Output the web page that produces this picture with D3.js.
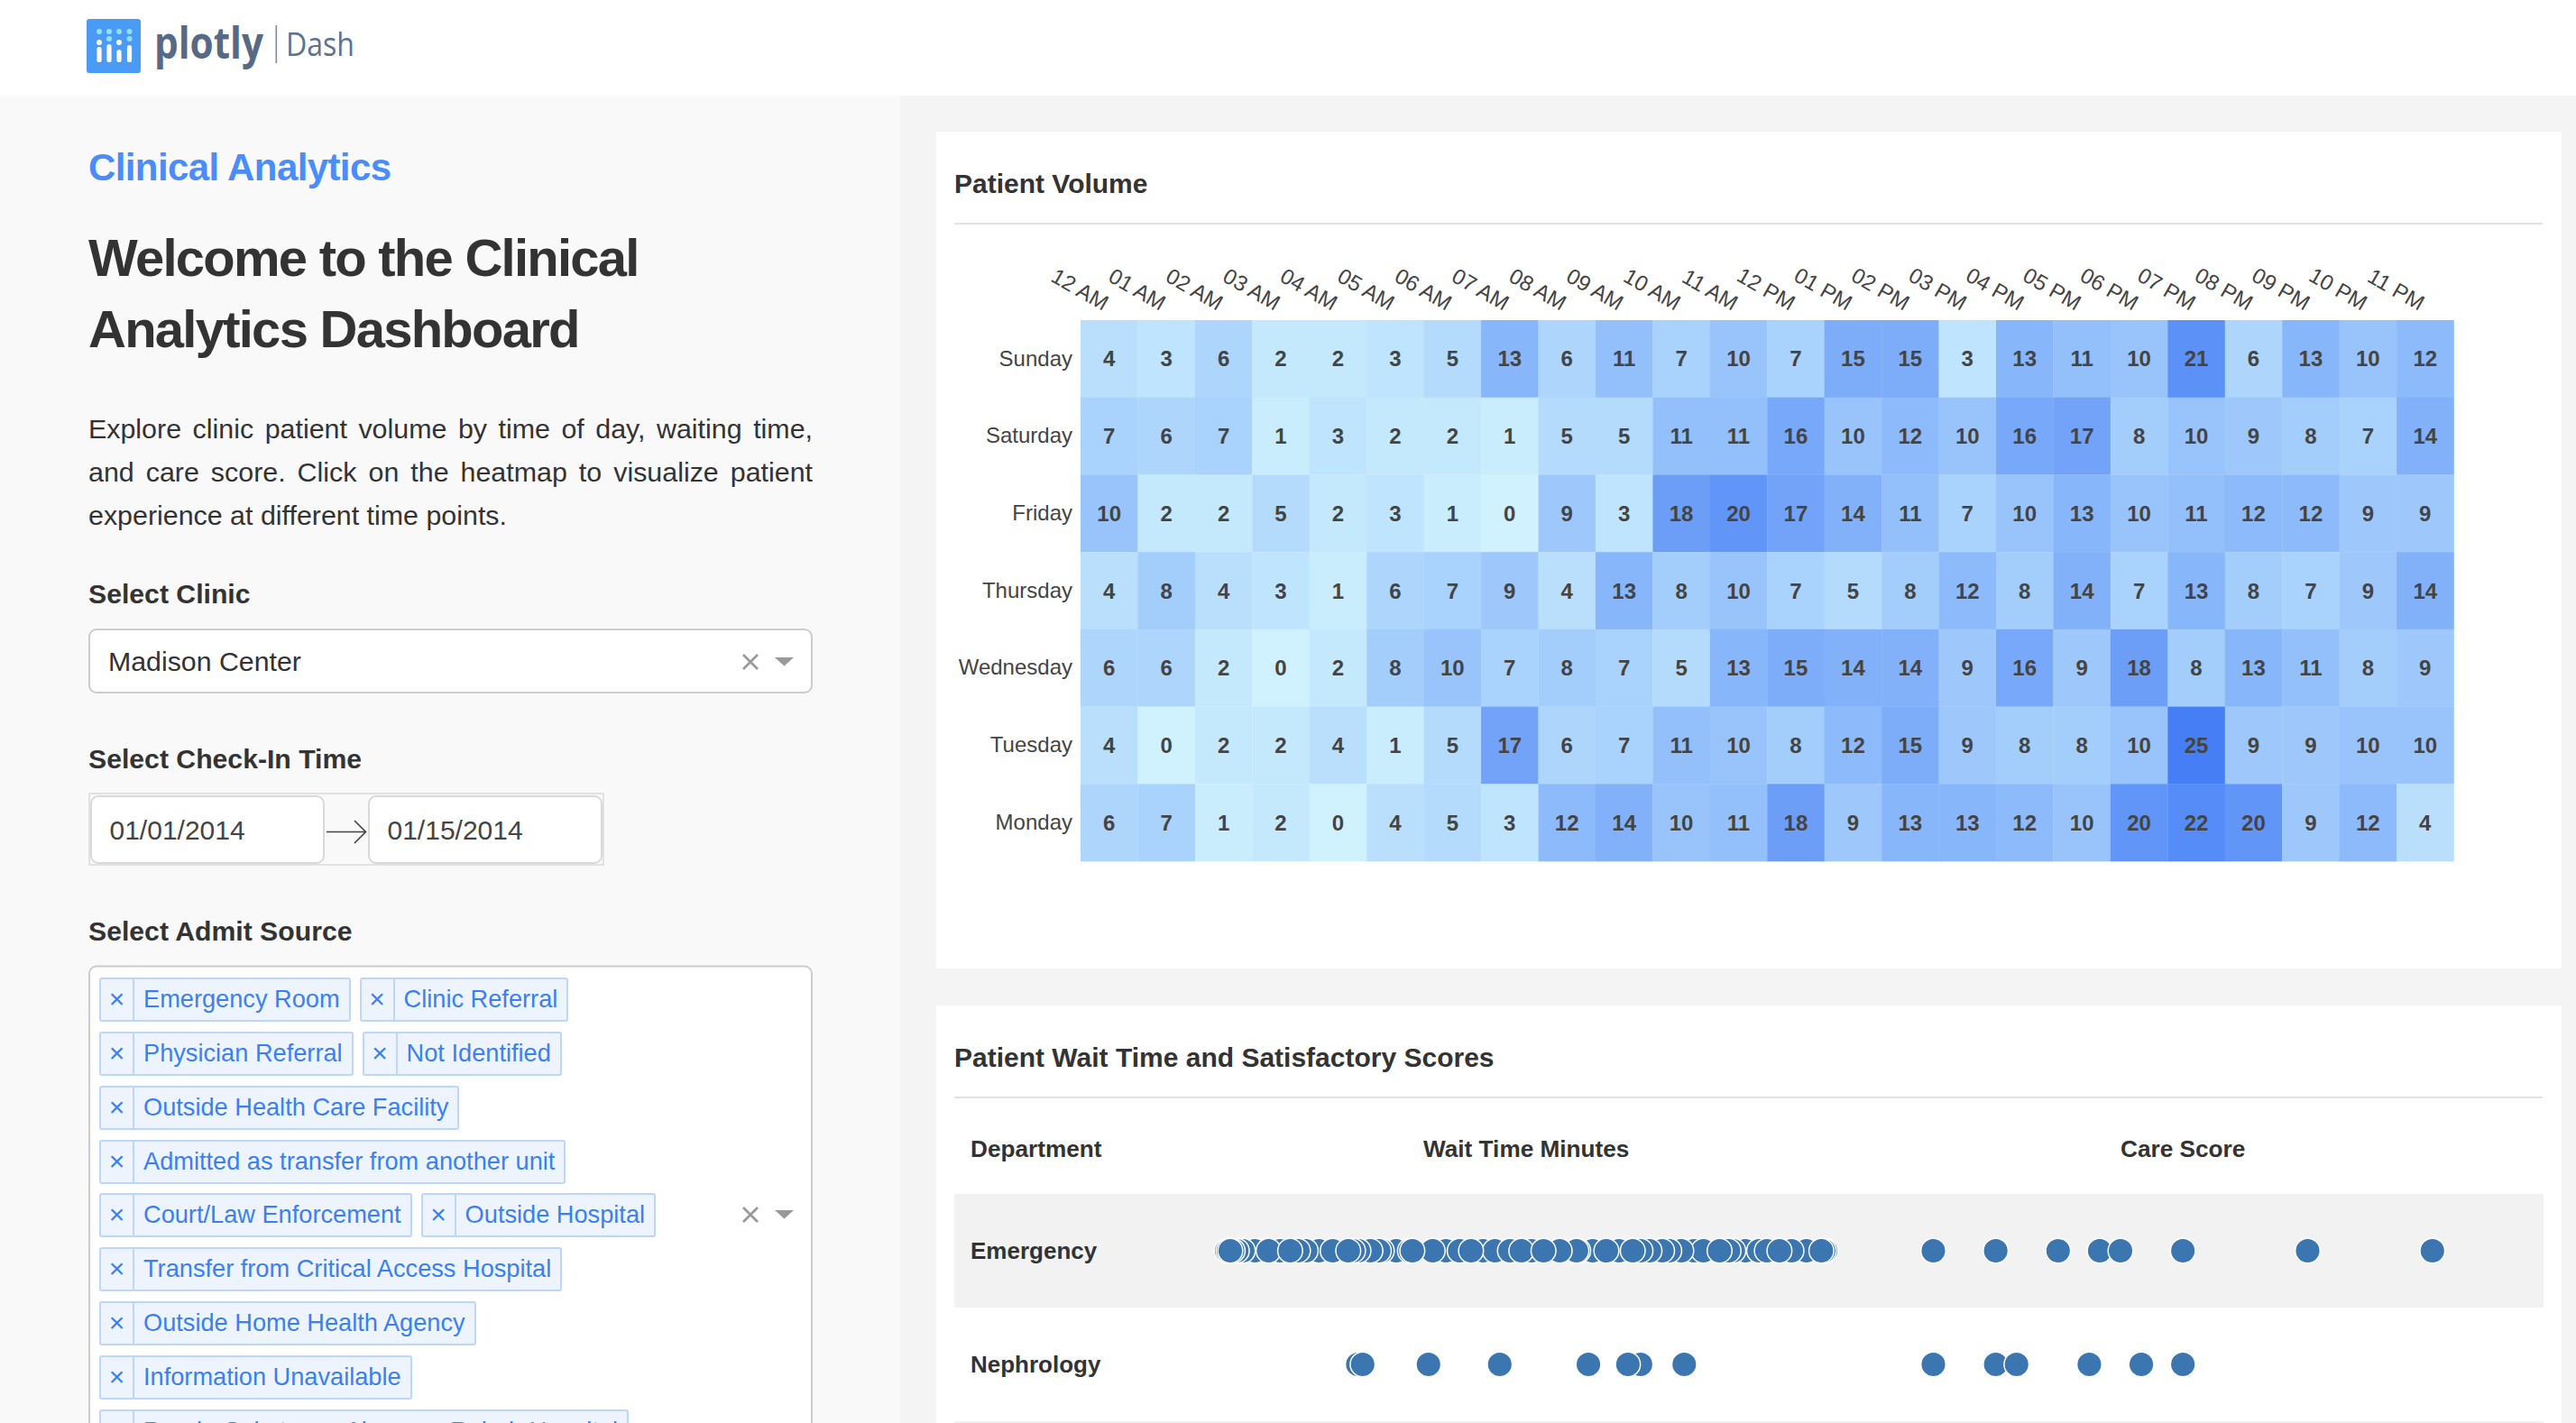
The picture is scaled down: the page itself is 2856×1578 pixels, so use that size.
<!DOCTYPE html>
<html><head><meta charset="utf-8">
<script src="https://cdn.jsdelivr.net/npm/d3@7"></script>
<style>
html,body{margin:0;padding:0;width:2856px;height:1578px;overflow:hidden;background:#f4f4f4;font-family:"Liberation Sans",Arial,sans-serif;}
#page{position:relative;width:2856px;height:1578px;overflow:hidden;}
.abs{position:absolute;box-sizing:border-box;white-space:nowrap;}
svg{position:absolute;left:0;top:0;}
.tag{position:absolute;display:flex;box-sizing:border-box;height:49px;background:#edf4fe;border:2px solid #bdd6fb;border-radius:3px;color:#3a80f2;font-size:27.2px;line-height:44px;white-space:nowrap;}
.tag .x{width:35px;border-right:2px solid #bdd6fb;text-align:center;font-size:30px;box-sizing:content-box;}
.tag .t{padding:0 10px 0 10px;}
</style></head><body><div id="page"></div>
<script>
// ---------- data ----------
const days = ["Sunday","Saturday","Friday","Thursday","Wednesday","Tuesday","Monday"];
const hours = ["12 AM","01 AM","02 AM","03 AM","04 AM","05 AM","06 AM","07 AM","08 AM","09 AM","10 AM","11 AM","12 PM","01 PM","02 PM","03 PM","04 PM","05 PM","06 PM","07 PM","08 PM","09 PM","10 PM","11 PM"];
const sunday    = [4,3,6,2,2,3,5,13,6,11,7,10,7,15,15,3,13,11,10,21,6,13,10,12];
const saturday  = [7,6,7,1,3,2,2,1,5,5,11,11,16,10,12,10,16,17,8,10,9,8,7,14];
const friday    = [10,2,2,5,2,3,1,0,9,3,18,20,17,14,11,7,10,13,10,11,12,12,9,9];
const thursday  = [4,8,4,3,1,6,7,9,4,13,8,10,7,5,8,12,8,14,7,13,8,7,9,14];
const wednesday = [6,6,2,0,2,8,10,7,8,7,5,13,15,14,14,9,16,9,18,8,13,11,8,9];
const tuesday   = [4,0,2,2,4,1,5,17,6,7,11,10,8,12,15,9,8,8,10,25,9,9,10,10];
const monday    = [6,7,1,2,0,4,5,3,12,14,10,11,18,9,13,13,12,10,20,22,20,9,12,4];
const volumes = [sunday,saturday,friday,thursday,wednesday,tuesday,monday];

const departments = ["Emergency","Nephrology"];
// listed in drawing order (later points sit on top); the first group is mostly hidden under the rest
const waitEmergency = [4.7,8.9,15.4,28.3,36.6,42.8,50.9,61.1,65.5,78.0,86.6,96.8,
  0,0.3,2.7,1.7,1.0,0.6,7.0,13.2,11.9,10.6,17.7,25.9,25.4,24.0,22.0,21.1,20.3,34.4,30.6,31.0,38.9,44.8,40.8,47.3,49.2,58.7,58.4,55.6,52.9,63.4,79.6,75.9,73.9,72.7,70.6,69.1,67.8,84.6,83.8,82.3,88.9,90.2,94.3,92.3,100,99.7,99.3];
const waitNephrology = [21.9,22.7,33.7,45.6,60.4,69.1,67.0,76.4];
const careEmergency = [0,6,12,16,18,24,36,48];
const careNephrology = [0,6,8,15,20,24];
const waitSeries = [waitEmergency,waitNephrology];
const careSeries = [careEmergency,careNephrology];

const tagRows = [
 ["Emergency Room","Clinic Referral"],
 ["Physician Referral","Not Identified"],
 ["Outside Health Care Facility"],
 ["Admitted as transfer from another unit"],
 ["Court/Law Enforcement","Outside Hospital"],
 ["Transfer from Critical Access Hospital"],
 ["Outside Home Health Agency"],
 ["Information Unavailable"],
 ["Psych, Substance Abuse or Rehab Hospital"]
];

// ---------- page ----------
const page = d3.select("#page");
const svg = page.append("svg").attr("width",2856).attr("height",1578);
const FONT = '"Liberation Sans",Arial,sans-serif';

function rect(x,y,w,h,fill){return svg.append("rect").attr("x",x).attr("y",y).attr("width",w).attr("height",h).attr("fill",fill);}
function label(s,x,base,size,color,weight,extra){
  const t = svg.append("text").attr("x",x).attr("y",base).attr("font-family",FONT).attr("font-size",size)
    .attr("fill",color).attr("font-weight",weight||400).text(s);
  if(extra) for(const k in extra) t.attr(k,extra[k]);
  return t;
}
function div(x,y,w,h,css){
  const d = page.append("div").attr("class","abs").style("left",x+"px").style("top",y+"px").style("width",w+"px").style("height",h+"px");
  for(const k in (css||{})) d.style(k,css[k]);
  return d;
}

// backgrounds
rect(0,0,2856,1578,"#f4f4f4");
rect(0,0,998,1578,"#f9f9f9");
rect(0,0,2856,106,"#ffffff");
rect(1038,146,1802,928,"#ffffff");
rect(1038,1115,1802,463,"#ffffff");

// logo
rect(96,21,60,60,"#4a9bf5").attr("rx",3);
const dotXs=[110,121,132,143.5];
dotXs.forEach((x,i)=>{
  svg.append("circle").attr("cx",x).attr("cy",35).attr("r",3).attr("fill","#8fe0fb");
  svg.append("circle").attr("cx",x).attr("cy",[47,43,47,43][i]).attr("r",3).attr("fill",i%2?"#8fe0fb":"#ffffff");
  const top=[52,49,55,50][i];
  rect(x-2.6,top,5.2,69-top,"#ffffff").attr("rx",2.6);
});
label("plotly",171,65,48,"#566a88",700).attr("font-family",'"Open Sans",sans-serif').attr("textLength",121).attr("lengthAdjust","spacingAndGlyphs");
rect(305.5,28,1.6,42,"#7c8ba3");
label("Dash",317,62,36,"#5d7190",400).attr("font-family",'"Open Sans",sans-serif').attr("textLength",76).attr("lengthAdjust","spacingAndGlyphs");

// left panel text
label("Clinical Analytics",98,199.5,42,"#4a8cfa",700,{"letter-spacing":"-0.6px"});
label("Welcome to the Clinical",98,306,58,"#333333",700,{"letter-spacing":"-1.75px"});
label("Analytics Dashboard",98,384.5,58,"#333333",700,{"letter-spacing":"-1.75px"});

const para = ["Explore clinic patient volume by time of day, waiting time,","and care score. Click on the heatmap to visualize patient"];
const paraLast = "experience at different time points.";
para.forEach((s,i)=>{
  div(98,[450.5,498.5][i],803,48,{"font-size":"30.4px","line-height":"48px","color":"#333","text-align":"justify","text-align-last":"justify","white-space":"normal"}).text(s);
});
div(98,546.5,803,48,{"font-size":"30.4px","line-height":"48px","color":"#333"}).text(paraLast);

label("Select Clinic",98,669,30.2,"#333333",700);
label("Select Check-In Time",98,852,30.2,"#333333",700);
label("Select Admit Source",98,1043,30.2,"#333333",700);

// clinic dropdown
function clearAndArrow(cy){
  const g=svg.append("g").attr("stroke","#999").attr("stroke-width",2.6);
  g.append("line").attr("x1",824).attr("y1",cy-8).attr("x2",840).attr("y2",cy+8);
  g.append("line").attr("x1",840).attr("y1",cy-8).attr("x2",824).attr("y2",cy+8);
  svg.append("path").attr("d",`M859,${cy-5}L880,${cy-5}L869.5,${cy+4.5}Z`).attr("fill","#999");
}
rect(99,698,801,70,"#ffffff").attr("stroke","#cccccc").attr("stroke-width",2).attr("rx",8);
label("Madison Center",120,744,30.3,"#333333");
clearAndArrow(734);

// date range
rect(99,880,570,79,"#f9f9f9").attr("stroke","#e2e2e2").attr("stroke-width",2);
[[101,"01/01/2014"],[409,"01/15/2014"]].forEach(([x,s])=>{
  rect(x,883,258,74,"#ffffff").attr("stroke","#d9d9d9").attr("stroke-width",2).attr("rx",8);
  label(s,x+20.5,931,30,"#444444");
});
svg.append("path").attr("d","M362,922.5H405M393,910L405.5,922.5L393,935").attr("fill","none").attr("stroke","#444").attr("stroke-width",1.6);

// multi select
rect(99,1071.5,801,560,"#ffffff").attr("stroke","#cccccc").attr("stroke-width",2).attr("rx",8);
clearAndArrow(1347);
const tagLayer = page.append("div");
tagRows.forEach((row,r)=>{
  let x=110;
  row.forEach(s=>{
    const tag = tagLayer.append("div").attr("class","tag").style("left",x+"px").style("top",(1084+r*59.85)+"px");
    tag.append("div").attr("class","x").text("×");
    tag.append("div").attr("class","t").text(s);
    x += tag.node().getBoundingClientRect().width + 10;
  });
});

// ---------- heatmap ----------
label("Patient Volume",1058,214,30,"#333333",700);
rect(1058,247,1761,2,"#e2e2e2");

const hx = d3.scaleBand().domain(d3.range(hours.length)).range([1198,2720.5]);
const hy = d3.scaleBand().domain(days).range([355,955]);
const color = d3.scaleLinear().domain([0,25]).range(["#cff2fe","#467ef6"]);

const cells = volumes.flatMap((vals,r)=>vals.map((v,c)=>({day:days[r],c,v})));
const heat = svg.append("g");
heat.selectAll("rect").data(cells).join("rect")
  .attr("x",d=>hx(d.c)).attr("y",d=>hy(d.day)).attr("width",hx.bandwidth()+0.3).attr("height",hy.bandwidth()+0.3)
  .attr("fill",d=>color(d.v));
heat.selectAll("text").data(cells).join("text")
  .attr("x",d=>hx(d.c)+hx.bandwidth()/2).attr("y",d=>hy(d.day)+hy.bandwidth()/2).attr("dy","0.36em")
  .attr("text-anchor","middle").attr("font-family",FONT).attr("font-weight",700).attr("font-size",24).attr("fill","#444444")
  .text(d=>d.v);

const xAxis = svg.append("g").attr("transform","translate(0,355)")
  .call(d3.axisTop(hx).tickSize(0).tickFormat(i=>hours[i]));
xAxis.select(".domain").remove();
xAxis.selectAll("text").attr("font-family",FONT).attr("font-size",24).attr("fill","#444444")
  .attr("x",0).attr("y",0).attr("dy",0).attr("text-anchor","end").attr("transform","translate(-7,-10) rotate(30)");

const yAxis = svg.append("g").attr("transform","translate(1198,0)")
  .call(d3.axisLeft(hy).tickSize(0).tickPadding(9));
yAxis.select(".domain").remove();
yAxis.selectAll("text").attr("font-family",FONT).attr("font-size",24).attr("fill","#444444");

// ---------- wait time table ----------
label("Patient Wait Time and Satisfactory Scores",1058,1183,30,"#333333",700);
rect(1058,1216,1761,2,"#e2e2e2");
label("Department",1076,1283,26.2,"#333333",700);
label("Wait Time Minutes",1578,1283,26.2,"#333333",700);
label("Care Score",2351,1283,26.2,"#333333",700);
rect(1058,1324,1762,126,"#f2f2f2");
rect(1058,1576,1762,2,"#f1f1f1");

const rowY = d3.scalePoint().domain(departments).range([1387,1513]);
const waitX = d3.scaleLinear().domain([0,100]).range([1360,2024]);
const careX = d3.scaleLinear().domain([0,48]).range([2143.5,2696.8]);

departments.forEach((dep,i)=>{
  label(dep,1076,rowY(dep)+9,26,"#333333",700);
  const g = svg.append("g").attr("fill","#3c76b0").attr("stroke","#ffffff").attr("stroke-width",1.5);
  g.selectAll("circle.w").data(waitSeries[i]).join("circle").attr("class","w")
    .attr("cx",d=>waitX(d)).attr("cy",rowY(dep)).attr("r",13.8);
  g.selectAll("circle.c").data(careSeries[i]).join("circle").attr("class","c")
    .attr("cx",d=>careX(d)).attr("cy",rowY(dep)).attr("r",13.8);
});
</script></body></html>
